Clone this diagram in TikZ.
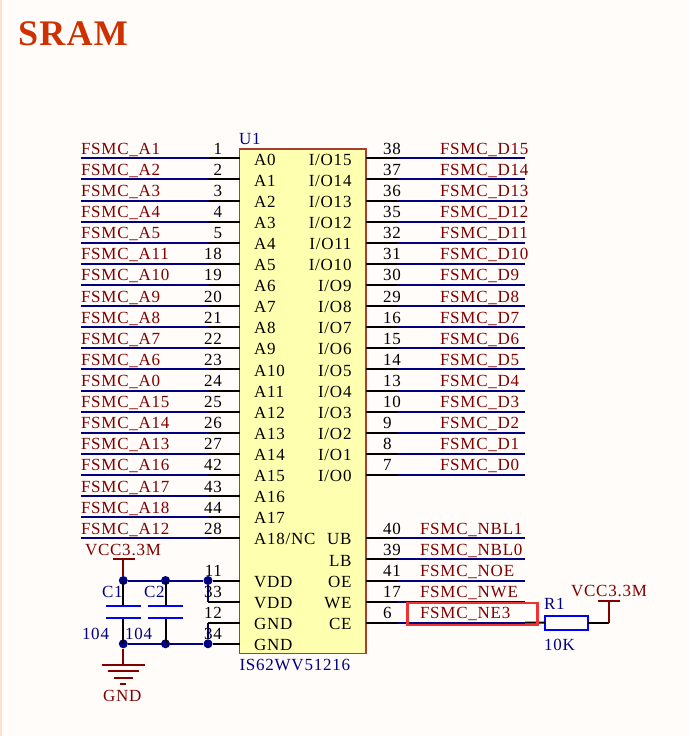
\documentclass[tikz,border=0pt]{standalone}
\usepackage{fontspec}
\setmainfont[LetterSpace=4.5]{Liberation Serif}
\usetikzlibrary{positioning, calc}
\definecolor{paperbg}{RGB}{255,252,249}
\definecolor{edgepink}{RGB}{255,222,214}
\definecolor{wireblue}{RGB}{0,0,128}
\definecolor{netred}{RGB}{128,0,0}
\definecolor{chipfill}{RGB}{255,255,176}
\definecolor{chipedge}{RGB}{170,60,50}
\definecolor{capblue}{RGB}{0,0,255}
\definecolor{titlered}{RGB}{206,48,0}
\definecolor{hilite}{RGB}{240,50,50}
\tikzset{
    txt/.style={inner sep=0pt, outer sep=0pt, font=\fontsize{17}{17}\selectfont},
    netlbl/.style={txt, anchor=base west, text=netred},
    pinnum/.style={txt, text=black},
    pinname/.style={txt, text=black},
    partlbl/.style={txt, anchor=base west, text=wireblue},
    bluewire/.style={draw=wireblue, line width=2pt},
    blackwire/.style={draw=black, line width=2pt},
    redwire/.style={draw=netred, line width=2pt},
    joint/.style={circle, fill=wireblue, inner sep=0pt, minimum size=9pt},
    plate/.style={draw=capblue, line width=2pt}
}
\begin{document}
\begin{tikzpicture}[x=1pt,y=-1pt,line cap=butt]
    \fill[paperbg] (0,0) rectangle (689,736);
    \fill[edgepink] (0,0) rectangle (1.5,736);
    \useasboundingbox (0,0) rectangle (689,736);

    \node[anchor=base west, inner sep=0pt, text=titlered, font=\fontsize{36}{36}\selectfont\bfseries\addfontfeature{LetterSpace=3.5}] (title) at (18,45) {SRAM};

    % the chip
    \node[draw=chipedge, fill=chipfill, line width=1.3pt, minimum width=126.5pt, minimum height=504.5pt, inner sep=0pt, outer sep=0pt, anchor=north west] (chip) at (239.5,149) {};
    \node[partlbl] (refU) at (239,144) {U1};
    \node[partlbl] (partU) at (239.5,670.7) {IS62WV51216};

    % address side
    \foreach \net/\num/\pin [count=\i from 0] in {A1/1/A0,A2/2/A1,A3/3/A2,A4/4/A3,A5/5/A4,A11/18/A5,A10/19/A6,A9/20/A7,A8/21/A8,A7/22/A9,A6/23/A10,A0/24/A11,A15/25/A12,A14/26/A13,A13/27/A14,A16/42/A15,A17/43/A16,A18/44/A17,A12/28/A18{/}NC}{
        \coordinate (netL\i) at (81,{158.3+21.11*\i});
        \coordinate (stubL\i) at (209,{158.3+21.11*\i});
        \coordinate (pinL\i) at (239.5,{158.3+21.11*\i});
        \draw[bluewire] (netL\i) -- (stubL\i);
        \draw[blackwire] (stubL\i) -- (pinL\i);
        \node[netlbl] (lblL\i) at ($(netL\i)+(0,-4)$) {FSMC\_\net};
        \node[pinnum, anchor=base east] (numL\i) at ($(stubL\i)+(13,-4)$) {\num};
        \node[pinname, anchor=base west] (nameL\i) at ($(pinL\i)+(14.5,6.7)$) {\pin};
    }

    % data side
    \foreach \net/\num/\pin [count=\i from 0] in {D15/38/15,D14/37/14,D13/36/13,D12/35/12,D11/32/11,D10/31/10,D9/30/9,D8/29/8,D7/16/7,D6/15/6,D5/14/5,D4/13/4,D3/10/3,D2/9/2,D1/8/1,D0/7/0}{
        \coordinate (pinR\i) at (366,{158.3+21.11*\i});
        \coordinate (stubR\i) at (397,{158.3+21.11*\i});
        \coordinate (netR\i) at (525,{158.3+21.11*\i});
        \draw[blackwire] (pinR\i) -- (stubR\i);
        \draw[bluewire] (stubR\i) -- (netR\i);
        \node[netlbl] (lblR\i) at ($(stubR\i)+(43,-4)$) {FSMC\_\net};
        \node[pinnum, anchor=base west] (numR\i) at ($(stubR\i)+(-14,-4)$) {\num};
        \node[pinname, anchor=base east] (nameR\i) at ($(pinR\i)+(-14.5,6.7)$) {I/O\pin};
    }

    % control pins
    \foreach \net/\num/\pin/\row in {NBL1/40/UB/18,NBL0/39/LB/19,NOE/41/OE/20,NWE/17/WE/21,NE3/6/CE/22}{
        \coordinate (pinC\row) at (366,{158.3+21.11*\row});
        \coordinate (stubC\row) at (397,{158.3+21.11*\row});
        \coordinate (netC\row) at (525,{158.3+21.11*\row});
        \draw[blackwire] (pinC\row) -- (stubC\row);
        \draw[bluewire] (stubC\row) -- (netC\row);
        \node[netlbl] (lblC\row) at ($(stubC\row)+(23,-4)$) {FSMC\_\net};
        \node[pinnum, anchor=base west] (numC\row) at ($(stubC\row)+(-14,-4)$) {\num};
        \node[pinname, anchor=base east] (nameC\row) at ($(pinC\row)+(-14.5,6.7)$) {\pin};
    }
    \node[pinname, anchor=base west] (nameV1) at (254,587.2) {VDD};
    \node[pinname, anchor=base west] (nameV2) at (254,608.3) {VDD};
    \node[pinname, anchor=base west] (nameG1) at (254,629.4) {GND};
    \node[pinname, anchor=base west] (nameG2) at (254,650.5) {GND};

    % pull-up on CE
    \node[draw=capblue, line width=2pt, minimum width=43pt, minimum height=14pt, inner sep=0pt, outer sep=0pt, anchor=west] (resR) at (545,622.7) {};
    \node[partlbl] (refR) at (544,609) {R1};
    \node[partlbl] (valR) at (544,650) {10K};
    \coordinate (vccR) at (609,601);
    \draw[blackwire] (netC22) -- (resR.west);
    \draw[blackwire] (resR.east) -- (vccR |- resR.east);
    \draw[redwire] (vccR |- resR.east) -- (vccR);
    \draw[redwire] (598,601) -- (620,601);
    \node[netlbl] (lblVccR) at (571,596) {VCC3.3M};
    \node[draw=hilite, line width=2.5pt, minimum width=130pt, minimum height=22pt, inner sep=0pt, outer sep=0pt, anchor=north west] (mark) at (407.5,603) {};

    % supply pins and decoupling
    \node[joint] (j1) at (123.3,580.5) {};
    \node[joint] (j2) at (165.5,580.5) {};
    \node[joint] (j3) at (208,580.5) {};
    \node[joint] (j4) at (123.3,643.8) {};
    \node[joint] (j5) at (165.5,643.8) {};
    \node[joint] (j6) at (208,643.8) {};
    \coordinate (pinV1) at (239.5,580.5);
    \coordinate (pinV2) at (239.5,601.6);
    \coordinate (pinG1) at (239.5,622.7);
    \coordinate (pinG2) at (239.5,643.8);
    \coordinate (vccL) at (123.3,559);
    \coordinate (gndL) at (123.3,664.5);
    \coordinate (c1top) at (123.3,605.7);
    \coordinate (c1bot) at (123.3,618.3);
    \coordinate (c2top) at (165.5,605.7);
    \coordinate (c2bot) at (165.5,618.3);

    \draw[blackwire] (j1.center) -- (c1top);
    \draw[blackwire] (c1bot) -- (j4.center);
    \draw[blackwire] (j2.center) -- (c2top);
    \draw[blackwire] (c2bot) -- (j5.center);
    \draw[plate] ($(c1top)+(-17.5,0)$) -- ($(c1top)+(17.5,0)$);
    \draw[plate] ($(c1bot)+(-17.5,0)$) -- ($(c1bot)+(17.5,0)$);
    \draw[plate] ($(c2top)+(-17.5,0)$) -- ($(c2top)+(17.5,0)$);
    \draw[plate] ($(c2bot)+(-17.5,0)$) -- ($(c2bot)+(17.5,0)$);

    \draw[redwire] (vccL) -- (j1);
    \draw[redwire] (113,559) -- (135,559);
    \draw[redwire] (j4) -- (gndL);
    \draw[redwire] (102,664.5) -- (145,664.5);
    \draw[redwire] (108,671) -- (139,671);
    \draw[redwire] (114,677.5) -- (133,677.5);
    \draw[redwire] (120,684) -- (126,684);

    \draw[bluewire] (j1) -- (j3);
    \draw[bluewire] (j4) -- (j6);
    \draw[blackwire] (j3) -- (pinV1);
    \draw[bluewire] (j3) -- (j3 |- pinV2);
    \draw[blackwire] (j3 |- pinV2) -- (pinV2);
    \draw[bluewire] (j6) -- (j6 |- pinG1);
    \draw[blackwire] (j6 |- pinG1) -- (pinG1);
    \draw[blackwire] (j6) -- (pinG2);

    \node[pinnum, anchor=base east] (num11) at (222,576.5) {11};
    \node[pinnum, anchor=base east] (num33) at (222,597.6) {33};
    \node[pinnum, anchor=base east] (num12) at (222,618.7) {12};
    \node[pinnum, anchor=base east] (num34) at (222,639.8) {34};

    \node[netlbl] (lblVccL) at (85,555) {VCC3.3M};
    \node[netlbl] (lblGnd) at (103,701.7) {GND};
    \node[partlbl] (refC1) at (102,597) {C1};
    \node[partlbl] (refC2) at (144,597) {C2};
    \node[partlbl] (valC1) at (82,639) {104};
    \node[partlbl] (valC2) at (125,639) {104};
\end{tikzpicture}
\end{document}
